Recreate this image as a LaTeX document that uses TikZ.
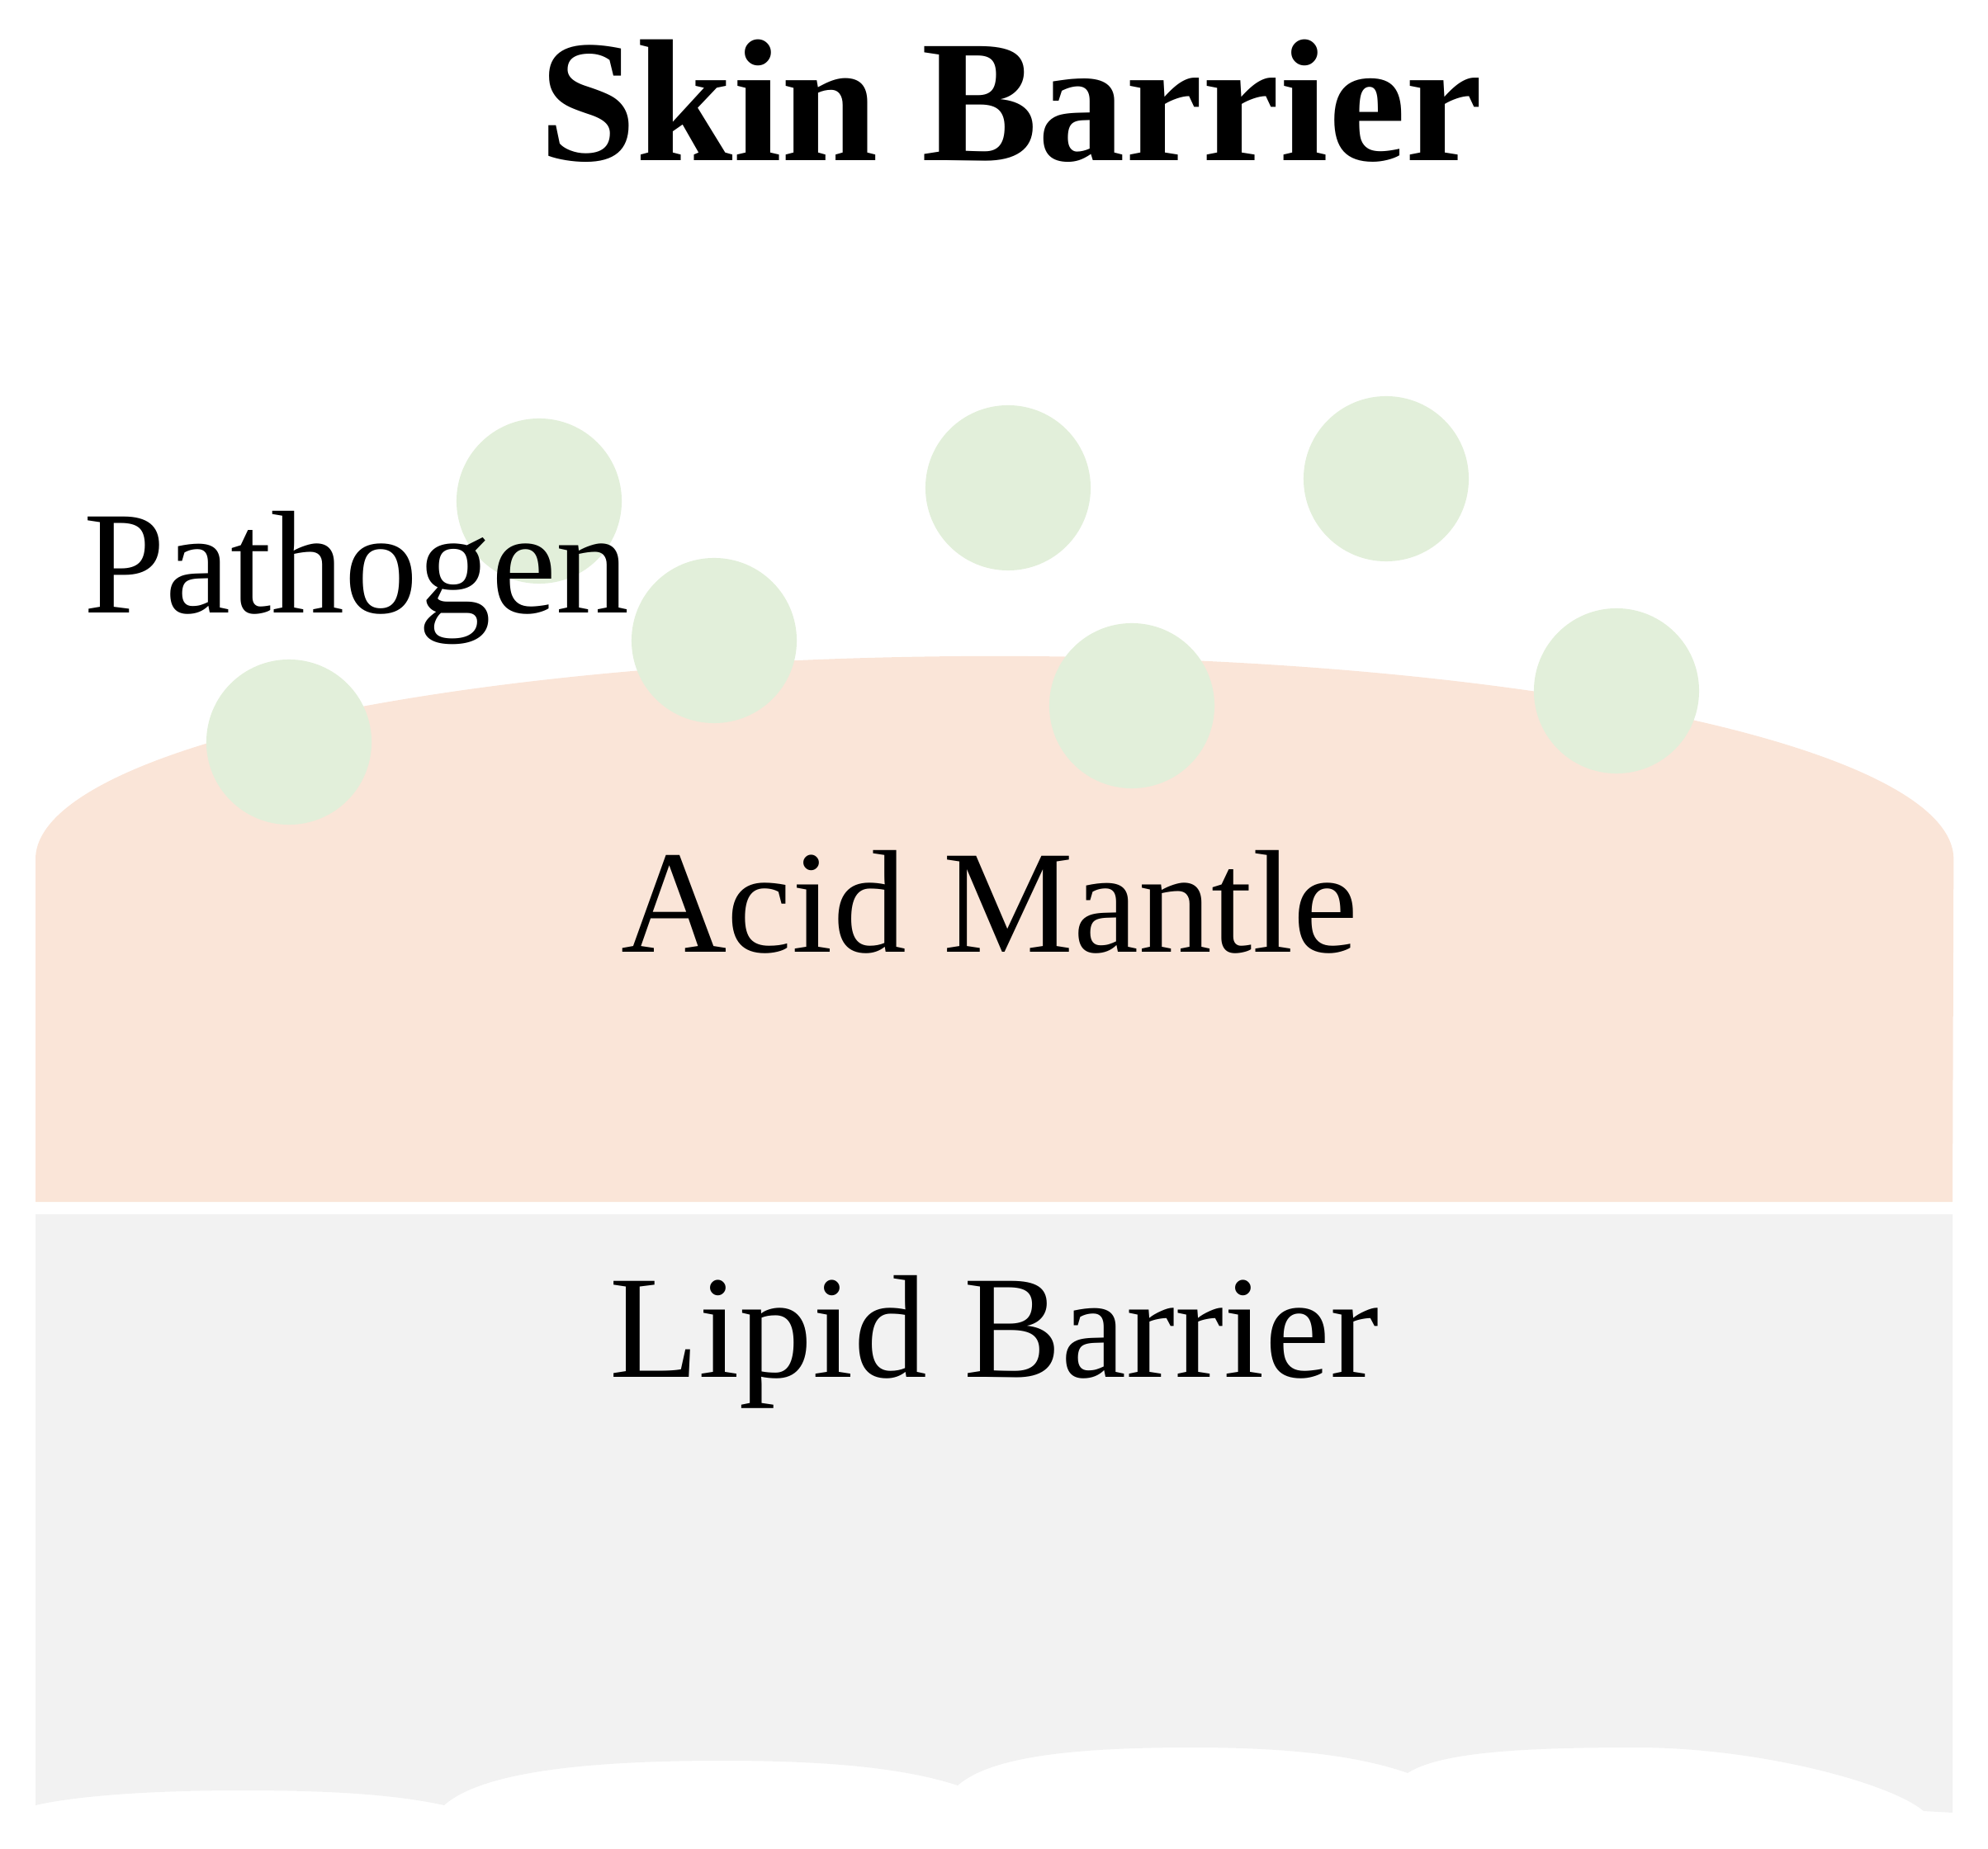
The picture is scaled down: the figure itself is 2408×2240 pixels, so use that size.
\documentclass[tikz,border=0pt]{standalone}
\usepackage{fontspec}
\setmainfont{Liberation Serif}
\definecolor{mantlefill}{HTML}{FAE5D8}
\definecolor{lipidfill}{HTML}{F2F2F2}
\definecolor{germfill}{HTML}{E2EFDA}

\begin{document}
\begin{tikzpicture}[x=0.01cm, y=-0.01cm,
    germ/.style={circle, fill=germfill, minimum size=2cm, inner sep=0pt},
    layertext/.style={inner sep=0pt, font=\fontsize{50.5}{60}\selectfont},
    titletext/.style={inner sep=0pt, font=\fontsize{60}{72}\selectfont\bfseries}]
    \useasboundingbox (0,0) rectangle (2408,2240);

    % acid mantle with rounded top
    \fill[mantlefill] (43,1456) -- (43,1041) arc[start angle=180, end angle=0, x radius=11.61cm, y radius=2.46cm] -- (2365,1456) -- cycle;

    % lipid barrier, wavy lower edge
    \fill[lipidfill] (43,1471) -- (2365,1471) -- (2365,2196) -- (2330,2194)
        .. controls (2290,2160) and (2130,2117) .. (1982,2117)
        .. controls (1850,2117) and (1745,2122) .. (1705,2148)
        .. controls (1640,2125) and (1550,2117) .. (1444,2117)
        .. controls (1300,2117) and (1200,2128) .. (1160,2163)
        .. controls (1090,2140) and (990,2133) .. (875,2133)
        .. controls (720,2133) and (585,2145) .. (538,2187)
        .. controls (470,2172) and (380,2169) .. (292,2169)
        .. controls (180,2169) and (90,2176) .. (43,2187) -- cycle;

    % pathogens
    \node[germ] (p1) at (653,607) {};
    \node[germ] (p2) at (1221,591) {};
    \node[germ] (p3) at (1679,580) {};
    \node[germ] (p4) at (865,776) {};
    \node[germ] (p5) at (350,899) {};
    \node[germ] (p6) at (1371,855) {};
    \node[germ] (p7) at (1958,837) {};

    \node[titletext, anchor=base] (title) at (1225,195) {Skin Barrier};
    \node[layertext, anchor=base west] (pathogen) at (101,743) {Pathogen};
    \node[layertext, anchor=base] (mantle) at (1199,1153) {Acid Mantle};
    \node[layertext, anchor=base] (lipid) at (1204,1668) {Lipid Barrier};
\end{tikzpicture}
\end{document}
